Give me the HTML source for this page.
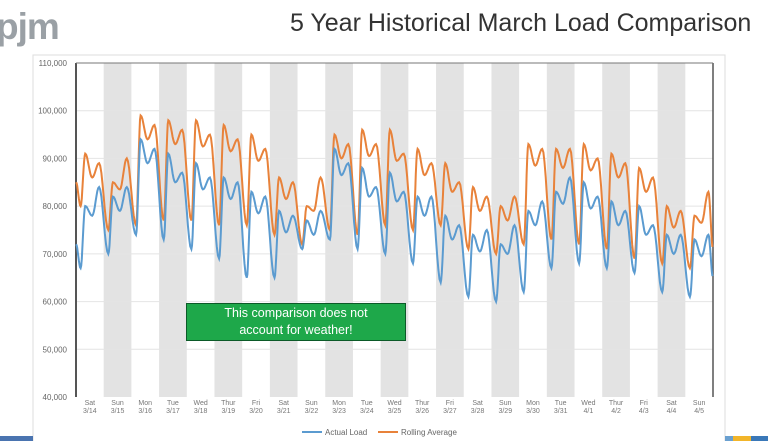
<!DOCTYPE html>
<html><head><meta charset="utf-8"><style>
body{margin:0;width:768px;height:441px;overflow:hidden;background:#fff;font-family:"Liberation Sans",sans-serif;position:relative}
.t{position:absolute;left:290px;top:9px;font-size:25px;color:#333}
.logo{position:absolute;left:-4px;top:6px;font-size:37px;color:#9aa0a5;font-weight:bold;letter-spacing:-1px}
.box{position:absolute;left:186px;top:303px;width:218px;height:35px;background:#1ea84a;border:1px solid #0c5a28;color:#fff;font-size:12.5px;text-align:center;line-height:17px;padding-top:1px}
</style></head><body>
<div class="logo">pjm</div>
<div class="t">5 Year Historical March Load Comparison</div>
<svg width="768" height="441" style="position:absolute;left:0;top:0">
<rect x="33" y="55" width="692" height="390" fill="none" stroke="#ddd"/>
<g id="bands"></g>
<g id="grid" stroke="#e4e4e4"></g>
<line x1="76" y1="63" x2="76" y2="397" stroke="#555" stroke-width="2"/>
<line x1="713" y1="63" x2="713" y2="397" stroke="#555" stroke-width="1.5"/>
<line x1="76" y1="63" x2="713" y2="63" stroke="#777"/>
<g id="ylab" font-size="8" fill="#666" text-anchor="end"></g>
<g id="xlab" font-size="7" fill="#777" text-anchor="middle"></g>
<path id="roll" fill="none" stroke="#e8823a" stroke-width="2"/>
<path id="act" fill="none" stroke="#5b9bd0" stroke-width="2"/>
<line x1="302" y1="432" x2="322" y2="432" stroke="#5b9bd0" stroke-width="2"/>
<text x="325" y="435" font-size="8" fill="#666">Actual Load</text>
<line x1="378" y1="432" x2="398" y2="432" stroke="#e8823a" stroke-width="2"/>
<text x="401" y="435" font-size="8" fill="#666">Rolling Average</text>
<rect x="0" y="436" width="33" height="5" fill="#4a74b0"/>
<rect x="725" y="436" width="8" height="5" fill="#6aa0d0"/>
<rect x="733" y="436" width="18" height="5" fill="#f2b52a"/>
<rect x="751" y="436" width="17" height="5" fill="#3a78b8"/>
</svg>
<div class="box">This comparison does not<br>account for weather!</div>
<script>
var X0=76,W=(713-76)/23,Y=v=>63+(110-v)*334/70;
var bands='',g='',yl='',xl='';
for(var i=0;i<23;i++)if(i%2)bands+='<rect x="'+(X0+i*W)+'" y="63" width="'+W+'" height="334" fill="#e3e3e3"/>';
document.getElementById('bands').innerHTML=bands;
for(var v=40;v<=110;v+=10){var y=Y(v);if(v>40&&v<110)g+='<line x1="76" x2="713" y1="'+y+'" y2="'+y+'"/>';yl+='<text x="67" y="'+(y+3)+'">'+v+',000</text>';}
document.getElementById('grid').innerHTML=g;document.getElementById('ylab').innerHTML=yl;
var days=['Sat','Sun','Mon','Tue','Wed','Thur','Fri','Sat','Sun','Mon','Tue','Wed','Thur','Fri','Sat','Sun','Mon','Tue','Wed','Thur','Fri','Sat','Sun'];
var dates=['3/14','3/15','3/16','3/17','3/18','3/19','3/20','3/21','3/22','3/23','3/24','3/25','3/26','3/27','3/28','3/29','3/30','3/31','4/1','4/2','4/3','4/4','4/5'];
for(i=0;i<23;i++){var cx=X0+(i+.5)*W;xl+='<text x="'+cx+'" y="405">'+days[i]+'</text><text x="'+cx+'" y="413">'+dates[i]+'</text>';}
document.getElementById('xlab').innerHTML=xl;
var A=[[67,80,84],[70,82,84],[74,94,92],[73,91,87],[71,89,86],[69,86,85],[65,83,82],[65,79,78],[71,77,79],[73,92,89],[71,88,84],[70,87,83],[68,82,82],[64,78,76],[61,74,75],[60,72,76],[62,79,81],[67,83,86],[68,85,82],[67,81,79],[66,80,76],[62,74,74],[61,73,74]];
var R=[[80,91,89],[75,85,90],[76,99,97],[77,98,96],[77,98,95],[76,97,94],[76,95,92],[74,86,85],[72,80,86],[75,95,93],[74,96,93],[76,96,91],[75,92,89],[76,89,85],[71,84,82],[70,80,82],[72,93,92],[73,92,92],[72,93,90],[71,91,89],[69,88,86],[68,80,79],[67,78,83]];
function path(D){var k=[];for(var i=0;i<D.length;i++){var d=D[i];k.push([i*24+4,d[0]],[i*24+8,d[1]],[i*24+14,(d[1]+d[2])/2-4],[i*24+20,d[2]]);}
k.unshift([0,D[0][0]+5]);k.push([23*24,D[22][0]+4]);
var s='';for(var j=0;j<k.length-1;j++){var a=k[j],b=k[j+1];for(var t=0;t<1;t+=0.125){var h=a[0]+(b[0]-a[0])*t,v=a[1]+(b[1]-a[1])*(1-Math.cos(Math.PI*t))/2;s+=(s?'L':'M')+(X0+h*W/24).toFixed(1)+' '+Y(v).toFixed(1);}}
return s;}
document.getElementById('act').setAttribute('d',path(A));
document.getElementById('roll').setAttribute('d',path(R));
</script>
</body></html>
